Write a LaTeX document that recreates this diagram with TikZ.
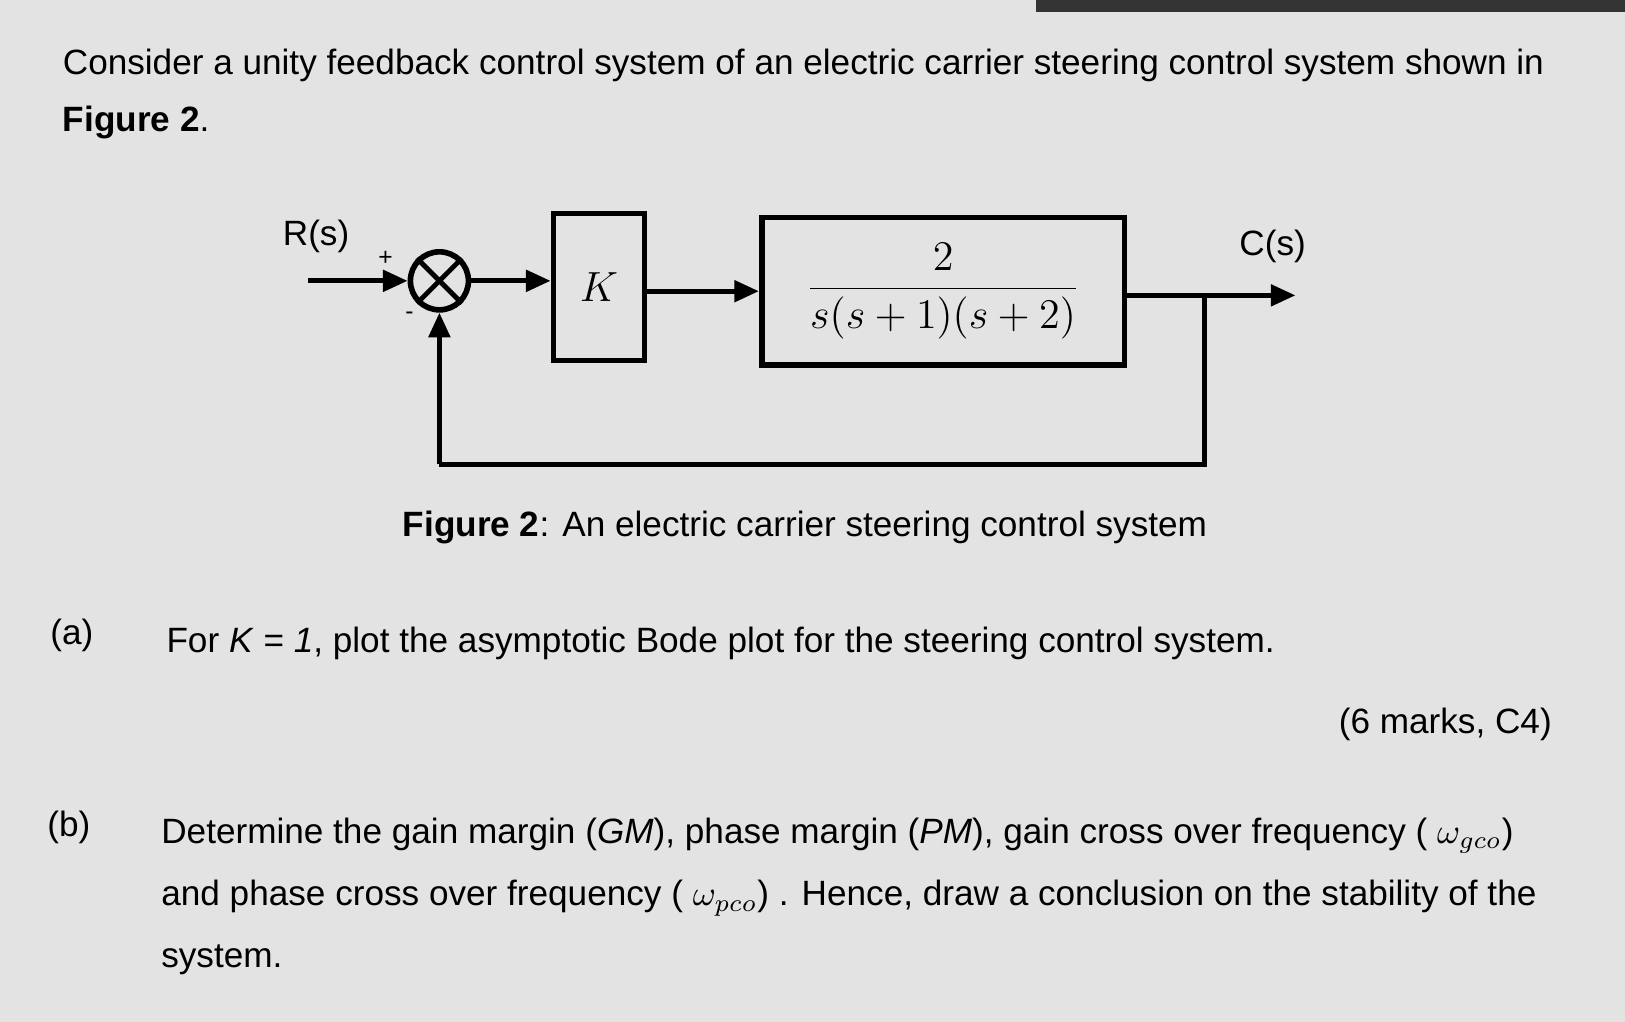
\documentclass[tikz,border=0pt]{standalone}
\usepackage{fontspec}
\setmainfont{Liberation Sans}
\usetikzlibrary{arrows.meta}
\begin{document}
\begin{tikzpicture}[x=0.01036cm,y=-0.01036cm,
  txt/.style={anchor=base west,font=\fontsize{10}{12}\selectfont,inner sep=0},
  blk/.style={draw,line width=1.6pt},
  sig/.style={line width=1.4pt,-{Triangle[length=7pt,width=6pt]}},
  wire/.style={line width=1.4pt}]
\useasboundingbox (0,0) rectangle (1568,986);
\fill[gray!22] (0,0) rectangle (1568,986);
\fill[black!80] (1000,0) rectangle (1568,12);
\node[txt] (l1) at (60,72) {Consider a unity feedback control system of an electric carrier steering control system shown in};
\node[txt] (l2) at (60,127) {\textbf{Figure 2}.};
% diagram
\node[font=\normalsize] (R) at (305,228) {R(s)};
\node[draw,circle,line width=1.6pt,minimum size=56*0.01036cm,inner sep=0] (sum) at (424,271) {};
\draw[line width=1.4pt] (sum.north west)--(sum.south east) (sum.north east)--(sum.south west);
\node (plus) at (372,249) {\scriptsize +};
\node (minus) at (395,305) {\scriptsize -};
\coordinate (in) at (297,271);
\draw[sig] (in) -- (sum.west);
\node[blk,minimum width=88*0.01036cm,minimum height=142*0.01036cm] (K) at (578,277) {\fontsize{13}{15}\selectfont$K$};
\draw[sig] (sum.east) -- (K.west|-sum.east);
\node[blk,minimum width=350*0.01036cm,minimum height=142*0.01036cm] (P) at (910,281) {\fontsize{12}{15}\selectfont$\displaystyle\frac{2}{s(s+1)(s+2)}$};
\draw[sig] (K.east|-0,281) -- (P.west|-0,281);
\coordinate (out) at (1250,285);
\coordinate (br) at (1162,285);
\draw[sig] (P.east|-out) -- (out);
\node (C) at (1228,238) {C(s)};
\coordinate (c1) at (1162,448);
\coordinate (c2) at (424,448);
\draw[wire] (br) -- (c1) -- (c2);
\draw[sig] (c2) -- (sum.south);
\node[txt] (cap) at (388,518) {\textbf{Figure 2}: An electric carrier steering control system};
% questions
\node[txt] (a) at (48,622) {(a)};
\node[txt] (qa) at (160,630) {For \textit{K} = \textit{1}, plot the asymptotic Bode plot for the steering control system.};
\node[txt,anchor=base east] (m) at (1498,708) {(6 marks, C4)};
\node[txt] (b) at (45,807) {(b)};
\node[txt] (qb1) at (155,814) {Determine the gain margin (\textit{GM}), phase margin (\textit{PM}), gain cross over frequency ( $\omega_{gco}$)};
\node[txt] (qb2) at (155,874) {and phase cross over frequency ( $\omega_{pco}$) . Hence, draw a conclusion on the stability of the};
\node[txt] (qb3) at (155,934) {system.};
\end{tikzpicture}
\end{document}
